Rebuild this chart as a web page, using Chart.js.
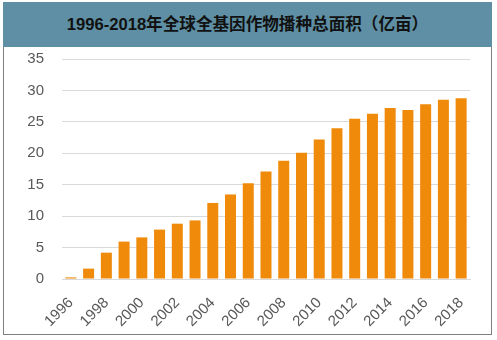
<!DOCTYPE html>
<html lang="zh">
<head>
    <meta charset="UTF-8">
    <title>全基因作物播种总面积</title>
    <style>
        body {
            margin: 0;
            padding: 0;
            background-color: #ffffff;
        }
        .frame {
            position: absolute;
            left: 3px;
            top: 3px;
            width: 487px;
            height: 331px;
            border: 1px solid #7f7f7f;
            border-top: none;
        }
        .title {
            position: absolute;
            left: 3px;
            top: 2px;
            width: 489px;
            height: 45px;
            background-color: #5e8fa4;
            color: #111111;
            font-family: "Liberation Sans", "Noto Sans CJK SC", sans-serif;
            font-weight: bold;
            font-size: 16.6px;
            line-height: 45px;
            text-align: center;
        }
        .chart-box {
            position: absolute;
            left: 4px;
            top: 32px;
            width: 487px;
            height: 302px;
        }
    </style>
</head>
<body>
    <div class="frame"></div>
    <div class="title">1996-2018年全球全基因作物播种总面积（亿亩）</div>
    <div class="chart-box">
        <canvas id="areaChart" width="487" height="302"></canvas>
    </div>
    <script src="https://cdn.jsdelivr.net/npm/chart.js"></script>
    <script>
        // 年份与播种面积（亿亩）
        const years = ['1996', '1997', '1998', '1999', '2000', '2001', '2002', '2003',
            '2004', '2005', '2006', '2007', '2008', '2009', '2010', '2011', '2012',
            '2013', '2014', '2015', '2016', '2017', '2018'];
        const areas = [0.26, 1.65, 4.19, 5.95, 6.62, 7.86, 8.8, 9.32,
            12.1, 13.45, 15.25, 17.1, 18.8, 20.1, 22.2, 24.0, 25.5,
            26.3, 27.2, 26.9, 27.8, 28.5, 28.75];
        const yTicks = [0, 5, 10, 15, 20, 25, 30, 35];

        const ctx = document.getElementById('areaChart').getContext('2d');
        new Chart(ctx, {
            type: 'bar',
            data: {
                labels: years,
                datasets: [{
                    data: areas,
                    backgroundColor: '#ef8a0a',
                    categoryPercentage: 1.0,
                    barPercentage: 0.62
                }]
            },
            options: {
                responsive: false,
                animation: false,
                layout: {
                    padding: { left: 0, right: 21, top: 2, bottom: 0 }
                },
                plugins: {
                    legend: { display: false },
                    tooltip: { enabled: false }
                },
                scales: {
                    x: {
                        grid: { display: false },
                        border: { color: '#d9d9d9' },
                        afterFit: function (axis) {
                            axis.height = 55;
                        },
                        ticks: {
                            autoSkip: false,
                            maxRotation: 45,
                            minRotation: 45,
                            color: '#595959',
                            font: { family: 'Liberation Sans', size: 15 },
                            padding: 7,
                            callback: function (value, index) {
                                return index % 2 === 0 ? years[index] : '';
                            }
                        }
                    },
                    y: {
                        min: yTicks[0],
                        max: yTicks[yTicks.length - 1],
                        afterBuildTicks: function (axis) {
                            axis.ticks = yTicks.map(v => ({ value: v }));
                        },
                        afterFit: function (axis) {
                            axis.width = 58;
                        },
                        grid: { color: '#d9d9d9', drawTicks: false },
                        border: { display: false },
                        ticks: {
                            color: '#595959',
                            font: { family: 'Liberation Sans', size: 15 },
                            padding: 18
                        }
                    }
                }
            }
        });
    </script>
</body>
</html>
